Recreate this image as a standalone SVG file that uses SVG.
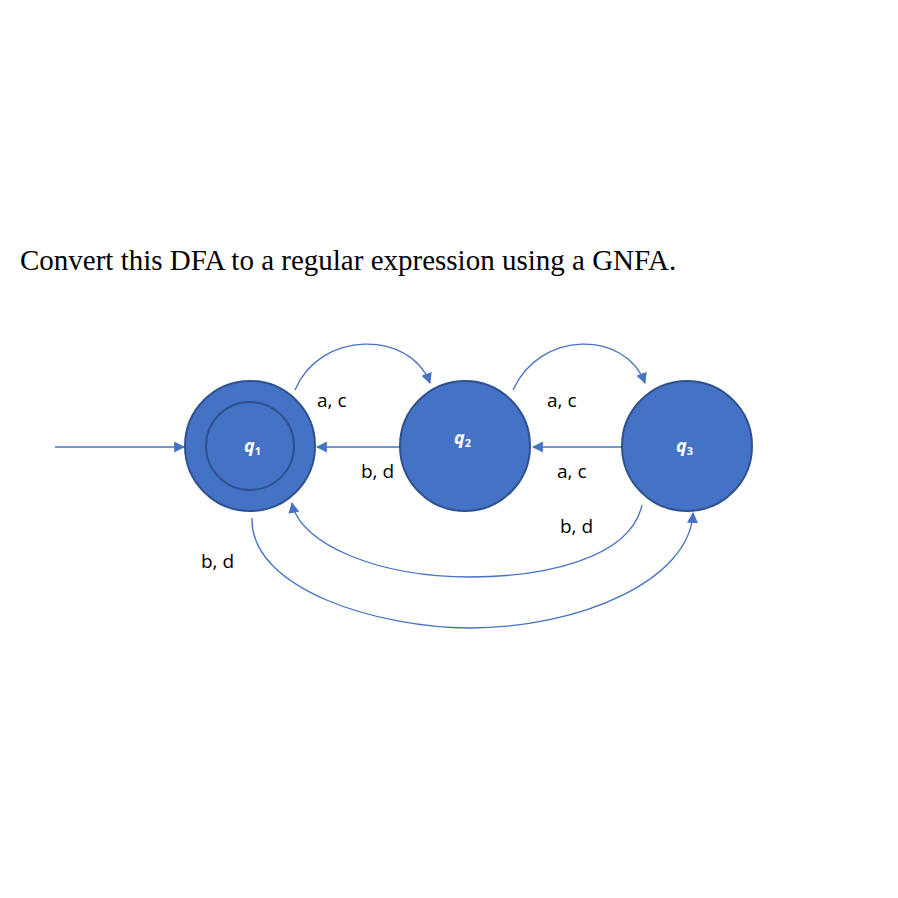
<svg xmlns="http://www.w3.org/2000/svg" width="898" height="898" viewBox="0 0 898 898">
<style>
.st{fill:#4472C4;stroke:#2F528F;stroke-width:2}
.in{fill:none;stroke:#2F528F;stroke-width:2}
.e{fill:none;stroke:#4472C4;stroke-width:1.3}
.lb{font-family:"Open Sans","Liberation Sans",sans-serif;font-size:19px;fill:#000}
.q{font-family:"Open Sans","Liberation Sans",sans-serif;font-size:18px;font-style:italic;font-weight:bold;fill:#fff}
.s{font-size:11px;font-style:normal}
</style>
<defs><marker id="ar" viewBox="0 0 10 10" refX="9" refY="5" markerWidth="11" markerHeight="11" markerUnits="userSpaceOnUse" orient="auto"><path d="M0,0L10,5L0,10z" fill="#4472C4"/></marker></defs>
<rect width="898" height="898" fill="#fff"/>
<text x="20" y="270" font-family="Liberation Serif,serif" font-size="29">Convert this DFA to a regular expression using a GNFA.</text>
<g id="connectors">
<path class="e" d="M55,447H184" marker-end="url(#ar)"/>
<path class="e" d="M400,447H317" marker-end="url(#ar)"/>
<path class="e" d="M622,447H533" marker-end="url(#ar)"/>
<path class="e" d="M295,390C320,330 410,330 430,383" marker-end="url(#ar)"/>
<path class="e" d="M513,390C540,330 625,330 645,383" marker-end="url(#ar)"/>
<path class="e" d="M642,505C630,560 540,577 470,577C380,577 300,545 292,503" marker-end="url(#ar)"/>
<path class="e" d="M252,518C250,590 380,628 470,628C580,628 690,580 693,513" marker-end="url(#ar)"/>
</g>
<g id="q1"><circle class="st" cx="250" cy="446" r="65"/><circle class="in" cx="250" cy="446" r="44"/><text class="q" x="244" y="452">q<tspan class="s" dy="3">1</tspan></text></g>
<g id="q2"><circle class="st" cx="465" cy="446" r="65"/><text class="q" x="454" y="444">q<tspan class="s" dy="3">2</tspan></text></g>
<g id="q3"><circle class="st" cx="687" cy="446" r="65"/><text class="q" x="676" y="452">q<tspan class="s" dy="3">3</tspan></text></g>
<g id="labels">
<text class="lb" x="317" y="407">a, c</text>
<text class="lb" x="361" y="478">b, d</text>
<text class="lb" x="547" y="407">a, c</text>
<text class="lb" x="557" y="478">a, c</text>
<text class="lb" x="560" y="533">b, d</text>
<text class="lb" x="201" y="568">b, d</text>
</g>
</svg>
